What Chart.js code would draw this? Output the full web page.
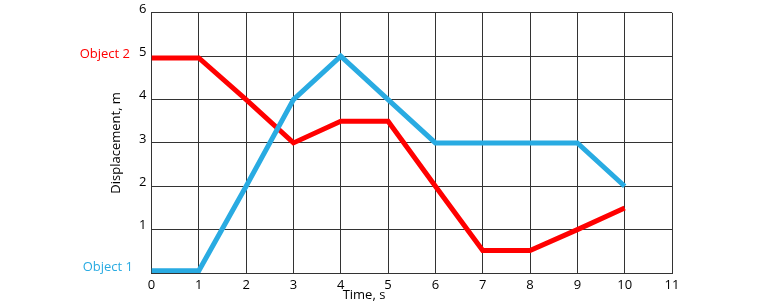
<!DOCTYPE html>
<html>
<head>
<meta charset="utf-8">
<script src="https://cdn.jsdelivr.net/npm/chart.js@4"></script>
<style>
  html, body { margin: 0; padding: 0; background: #fff; }
  #wrap { width: 768px; height: 304px; }
</style>
</head>
<body>
<div id="wrap"><canvas id="c" width="768" height="304"></canvas></div>
<script>
// Data
const times = [0, 1, 2, 3, 4, 5, 6, 7, 8, 9, 10];
const object1 = [0.05, 0.05, 2, 4, 5, 4, 3, 3, 3, 3, 2];
const object2 = [4.96, 4.96, 4, 3, 3.5, 3.5, 2, 0.52, 0.52, 1, 1.5];
const xTicks = [0, 1, 2, 3, 4, 5, 6, 7, 8, 9, 10, 11];
const yTicks = [0, 1, 2, 3, 4, 5, 6];
const seriesNames = ['Object 1', 'Object 2'];
const xTitle = 'Time, s';
const yTitle = 'Displacement, m';

const BLUE = 'rgb(41,171,226)';
const RED = 'rgb(255,0,0)';
const FONT = '"Open Sans", "Noto Sans", sans-serif';

const pts = (ys) => times.map((t, i) => ({ x: t, y: ys[i] }));

const labelsPlugin = {
  id: 'sideLabels',
  afterDraw(chart) {
    const { ctx, scales: { x, y } } = chart;
    ctx.save();
    ctx.font = '13px ' + FONT;
    ctx.textBaseline = 'middle';
    ctx.textAlign = 'right';
    ctx.fillStyle = RED;
    ctx.fillText(seriesNames[1], 130, y.getPixelForValue(object2[0]) - 4);
    ctx.fillStyle = BLUE;
    ctx.fillText(seriesNames[0], 133, y.getPixelForValue(object1[0]) - 4);
    ctx.fillStyle = '#000';
    ctx.textAlign = 'center';
    ctx.fillText(xTitle, 364, 295);
    ctx.restore();
  }
};

new Chart(document.getElementById('c'), {
  type: 'line',
  data: {
    datasets: [
      { label: seriesNames[0], data: pts(object1), borderColor: BLUE, backgroundColor: BLUE,
        borderWidth: 5, pointRadius: 0, tension: 0, borderJoinStyle: 'miter', fill: false },
      { label: seriesNames[1], data: pts(object2), borderColor: RED, backgroundColor: RED,
        borderWidth: 5, pointRadius: 0, tension: 0, borderJoinStyle: 'miter', fill: false }
    ]
  },
  options: {
    responsive: false,
    devicePixelRatio: 1,
    animation: false,
    layout: { padding: { top: 12, right: 96, left: 0, bottom: 0 } },
    plugins: { legend: { display: false }, tooltip: { enabled: false } },
    scales: {
      x: {
        type: 'linear',
        min: xTicks[0], max: xTicks[xTicks.length - 1],
        afterBuildTicks: (s) => { s.ticks = xTicks.map(v => ({ value: v })); },
        afterFit: (s) => { s.height = 31; },
        grid: { color: '#333', lineWidth: 1, drawTicks: false },
        border: { color: '#333', width: 1 },
        ticks: { color: '#000', padding: 4, font: { size: 13, family: FONT }, maxRotation: 0 },
        title: { display: false }
      },
      y: {
        min: yTicks[0], max: yTicks[yTicks.length - 1],
        afterBuildTicks: (s) => { s.ticks = yTicks.map(v => ({ value: v })); },
        afterFit: (s) => { s.width = 151.5; },
        grid: { color: '#333', lineWidth: 1, drawTicks: false },
        border: { color: '#333', width: 1 },
        ticks: { color: '#000', padding: 5, labelOffset: -4, font: { size: 13, family: FONT },
          callback: (v) => (v === 0 ? '' : String(v)) },
        title: { display: true, text: yTitle, color: '#000', font: { size: 13, family: FONT },
          padding: { top: 108, bottom: 0 } }
      }
    }
  },
  plugins: [labelsPlugin]
});
</script>
</body>
</html>
